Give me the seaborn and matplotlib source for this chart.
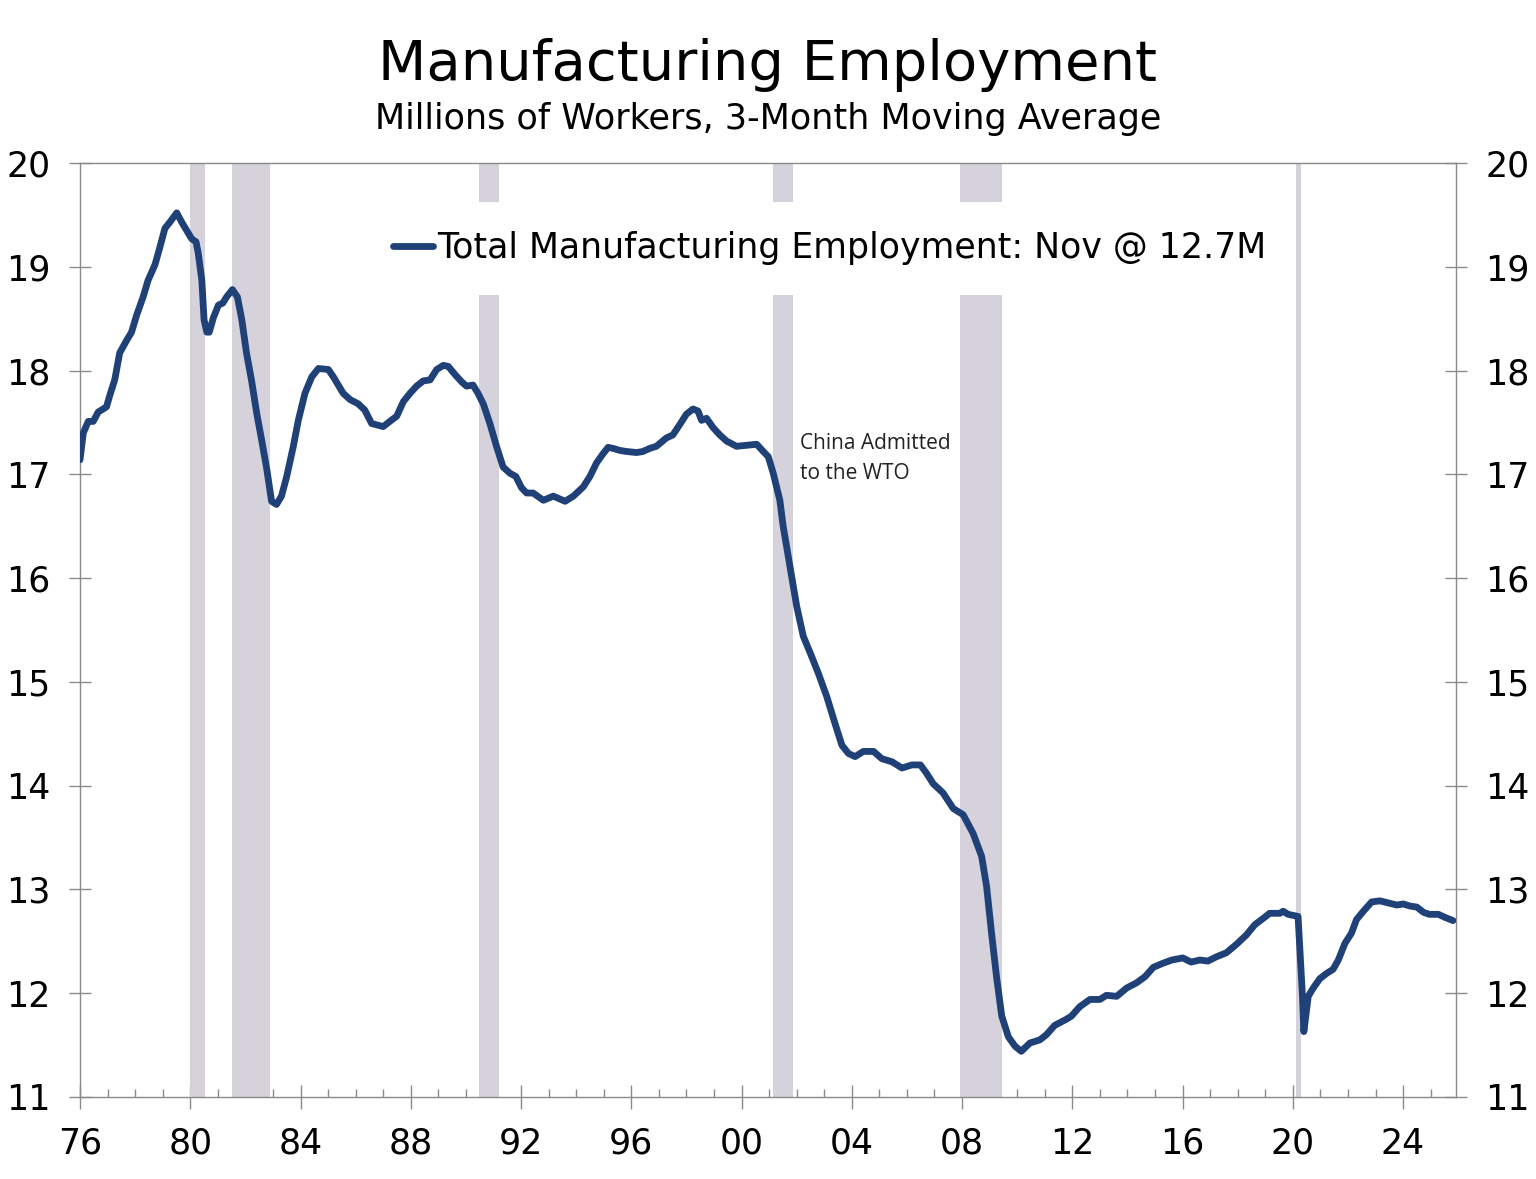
import matplotlib
matplotlib.use("Agg")
import matplotlib.pyplot as plt
import seaborn as sns
import pandas as pd
from matplotlib.ticker import FuncFormatter, MultipleLocator, FixedLocator

# ---------------- data ----------------
years = [
    1976.00, 1976.12, 1976.30, 1976.48, 1976.66, 1976.96, 1977.08, 1977.26, 1977.44, 1977.69,
    1977.87, 1978.05, 1978.29, 1978.47, 1978.72, 1978.90, 1979.08, 1979.26, 1979.51, 1979.69,
    1979.87, 1980.05, 1980.21, 1980.29, 1980.42, 1980.50, 1980.60, 1980.69, 1980.84, 1981.02,
    1981.18, 1981.32, 1981.53, 1981.71, 1981.87, 1982.04, 1982.22, 1982.41, 1982.59, 1982.77,
    1982.95, 1983.13, 1983.31, 1983.50, 1983.74, 1983.92, 1984.16, 1984.41, 1984.65, 1985.01,
    1985.19, 1985.55, 1985.80, 1986.09, 1986.33, 1986.58, 1987.00, 1987.24, 1987.49, 1987.73,
    1987.97, 1988.21, 1988.45, 1988.70, 1988.94, 1989.18, 1989.36, 1989.61, 1989.85, 1990.02,
    1990.26, 1990.44, 1990.63, 1990.87, 1991.11, 1991.35, 1991.60, 1991.81, 1992.02, 1992.20,
    1992.44, 1992.81, 1993.17, 1993.60, 1993.90, 1994.26, 1994.50, 1994.74, 1994.98, 1995.16,
    1995.34, 1995.59, 1995.83, 1996.19, 1996.42, 1996.67, 1996.91, 1997.27, 1997.51, 1997.76,
    1998.00, 1998.24, 1998.42, 1998.55, 1998.73, 1998.97, 1999.21, 1999.46, 1999.82, 2000.18,
    2000.55, 2000.79, 2000.97, 2001.15, 2001.27, 2001.39, 2001.51, 2001.76, 2002.00, 2002.24,
    2002.49, 2002.79, 2003.09, 2003.39, 2003.64, 2003.88, 2004.12, 2004.42, 2004.79, 2005.09,
    2005.46, 2005.82, 2006.18, 2006.49, 2006.71, 2006.95, 2007.31, 2007.68, 2008.04, 2008.40,
    2008.71, 2008.89, 2009.07, 2009.25, 2009.44, 2009.68, 2009.92, 2010.15, 2010.46, 2010.82,
    2011.06, 2011.36, 2011.79, 2011.97, 2012.27, 2012.64, 2013.00, 2013.24, 2013.61, 2013.97,
    2014.33, 2014.64, 2014.94, 2015.30, 2015.61, 2016.01, 2016.31, 2016.62, 2016.92, 2017.22,
    2017.59, 2017.95, 2018.31, 2018.62, 2018.92, 2019.16, 2019.53, 2019.65, 2019.83, 2020.19,
    2020.25, 2020.35, 2020.40, 2020.56, 2020.74, 2020.98, 2021.22, 2021.46, 2021.65, 2021.89,
    2022.13, 2022.31, 2022.56, 2022.86, 2023.16, 2023.46, 2023.77, 2024.01, 2024.25, 2024.50,
    2024.74, 2024.95, 2025.28, 2025.53, 2025.81,
]
employment = [
    17.14, 17.40, 17.51, 17.51, 17.60, 17.65, 17.76, 17.91, 18.17, 18.29,
    18.37, 18.53, 18.71, 18.87, 19.02, 19.19, 19.37, 19.43, 19.52, 19.43,
    19.35, 19.27, 19.24, 19.13, 18.87, 18.49, 18.37, 18.37, 18.51, 18.63,
    18.65, 18.71, 18.78, 18.71, 18.49, 18.17, 17.91, 17.59, 17.33, 17.06,
    16.74, 16.71, 16.79, 16.98, 17.27, 17.52, 17.78, 17.94, 18.02, 18.01,
    17.94, 17.78, 17.72, 17.68, 17.62, 17.49, 17.46, 17.51, 17.56, 17.70,
    17.78, 17.85, 17.90, 17.91, 18.01, 18.05, 18.04, 17.96, 17.89, 17.85,
    17.86, 17.78, 17.68, 17.49, 17.27, 17.07, 17.01, 16.98, 16.87, 16.82,
    16.82, 16.75, 16.79, 16.74, 16.79, 16.88, 16.98, 17.11, 17.20, 17.26,
    17.25, 17.23, 17.22, 17.21, 17.22, 17.25, 17.27, 17.35, 17.38, 17.48,
    17.58, 17.63, 17.61, 17.52, 17.54, 17.45, 17.38, 17.32, 17.27, 17.28,
    17.29, 17.22, 17.17, 17.01, 16.88, 16.75, 16.50, 16.11, 15.73, 15.44,
    15.28, 15.08, 14.86, 14.60, 14.39, 14.31, 14.28, 14.33, 14.33, 14.26,
    14.23, 14.17, 14.20, 14.20, 14.12, 14.02, 13.93, 13.78, 13.72, 13.54,
    13.32, 13.03, 12.58, 12.16, 11.78, 11.58, 11.49, 11.44, 11.52, 11.55,
    11.60, 11.69, 11.75, 11.78, 11.87, 11.94, 11.94, 11.98, 11.97, 12.05,
    12.10, 12.16, 12.25, 12.29, 12.32, 12.34, 12.30, 12.32, 12.31, 12.35,
    12.39, 12.47, 12.56, 12.66, 12.72, 12.77, 12.77, 12.79, 12.76, 12.74,
    12.45, 11.97, 11.63, 11.97, 12.05, 12.14, 12.19, 12.23, 12.32, 12.48,
    12.58, 12.71, 12.79, 12.88, 12.89, 12.87, 12.85, 12.86, 12.84, 12.83,
    12.78, 12.76, 12.76, 12.73, 12.70,
]
recession_start = [1980.00, 1981.50, 1990.46, 2001.15, 2007.92, 2020.10]
recession_end = [1980.55, 1982.88, 1991.21, 2001.87, 2009.46, 2020.29]

series_label = "Total Manufacturing Employment: Nov @ 12.7M"
title = "Manufacturing Employment"
subtitle = "Millions of Workers, 3-Month Moving Average"
annotation = "China Admitted\nto the WTO"
y_ticks = [11, 12, 13, 14, 15, 16, 17, 18, 19, 20]

df = pd.DataFrame({"year": years, "value": employment})

# ---------------- style ----------------
sns.set_style("white")
plt.rcParams["font.family"] = ["DejaVu Sans"]
plt.rcParams["text.color"] = "black"

LINE = "#1f4178"
BAND = "#d6d2dc"
SPINE = "#8a8a8a"

fig = plt.figure(figsize=(15.36, 11.79), dpi=100)
ax = fig.add_axes([80 / 1536, 82 / 1179, 1376 / 1536, 934 / 1179])

for s, e in zip(recession_start, recession_end):
    ax.axvspan(s, e, color=BAND, lw=0, zorder=1)

sns.lineplot(data=df, x="year", y="value", ax=ax, color=LINE, linewidth=4.9,
             label=series_label, zorder=3, solid_capstyle="round", solid_joinstyle="round")

ax.set_xlim(1976, 2025.92)
ax.set_ylim(11, 20)
ax.set_xlabel("")
ax.set_ylabel("")

for sp in ax.spines.values():
    sp.set_visible(True)
    sp.set_color(SPINE)
    sp.set_linewidth(1.0)

ax.xaxis.set_major_locator(MultipleLocator(4))
ax.xaxis.set_minor_locator(MultipleLocator(1))
ax.xaxis.set_major_formatter(FuncFormatter(lambda v, p: f"{int(round(v)) % 100:02d}"))
ax.yaxis.set_major_locator(FixedLocator(y_ticks))
ax.yaxis.set_major_formatter(FuncFormatter(lambda v, p: f"{int(round(v))}"))

ax.tick_params(axis="x", which="major", direction="inout", length=17, width=1,
               color=SPINE, labelsize=25, pad=13, labelcolor="black", bottom=True)
ax.tick_params(axis="x", which="minor", direction="in", length=6, width=1,
               color=SPINE, bottom=True)
ax.tick_params(axis="y", which="major", direction="inout", length=16.5, width=1,
               color=SPINE, labelsize=25, pad=13, labelcolor="black",
               left=True, right=True, labelleft=True, labelright=True)

# legend
leg = ax.legend(loc="center", bbox_to_anchor=(0.545, 0.9085), frameon=True,
                fontsize=25, handlelength=1.15, handletextpad=0.12,
                borderpad=0.85, fancybox=False)
leg.get_frame().set_facecolor("white")
leg.get_frame().set_edgecolor("none")
leg.get_frame().set_alpha(1)
leg.set_zorder(4)
for t in leg.get_texts():
    t.set_color("black")

# annotation
ax.text(2002.11, 17.40, annotation, ha="left", va="top", fontsize=15,
        family=["Open Sans", "DejaVu Sans"], color="#222222", linespacing=1.6, zorder=5)

# titles
fig.text(0.5, 1 - 80 / 1179, title, ha="center", va="baseline", fontsize=40.3, color="black")
fig.text(0.5, 1 - 129 / 1179, subtitle, ha="center", va="baseline", fontsize=25.2, color="black")

fig.savefig("out.png", dpi=100)
